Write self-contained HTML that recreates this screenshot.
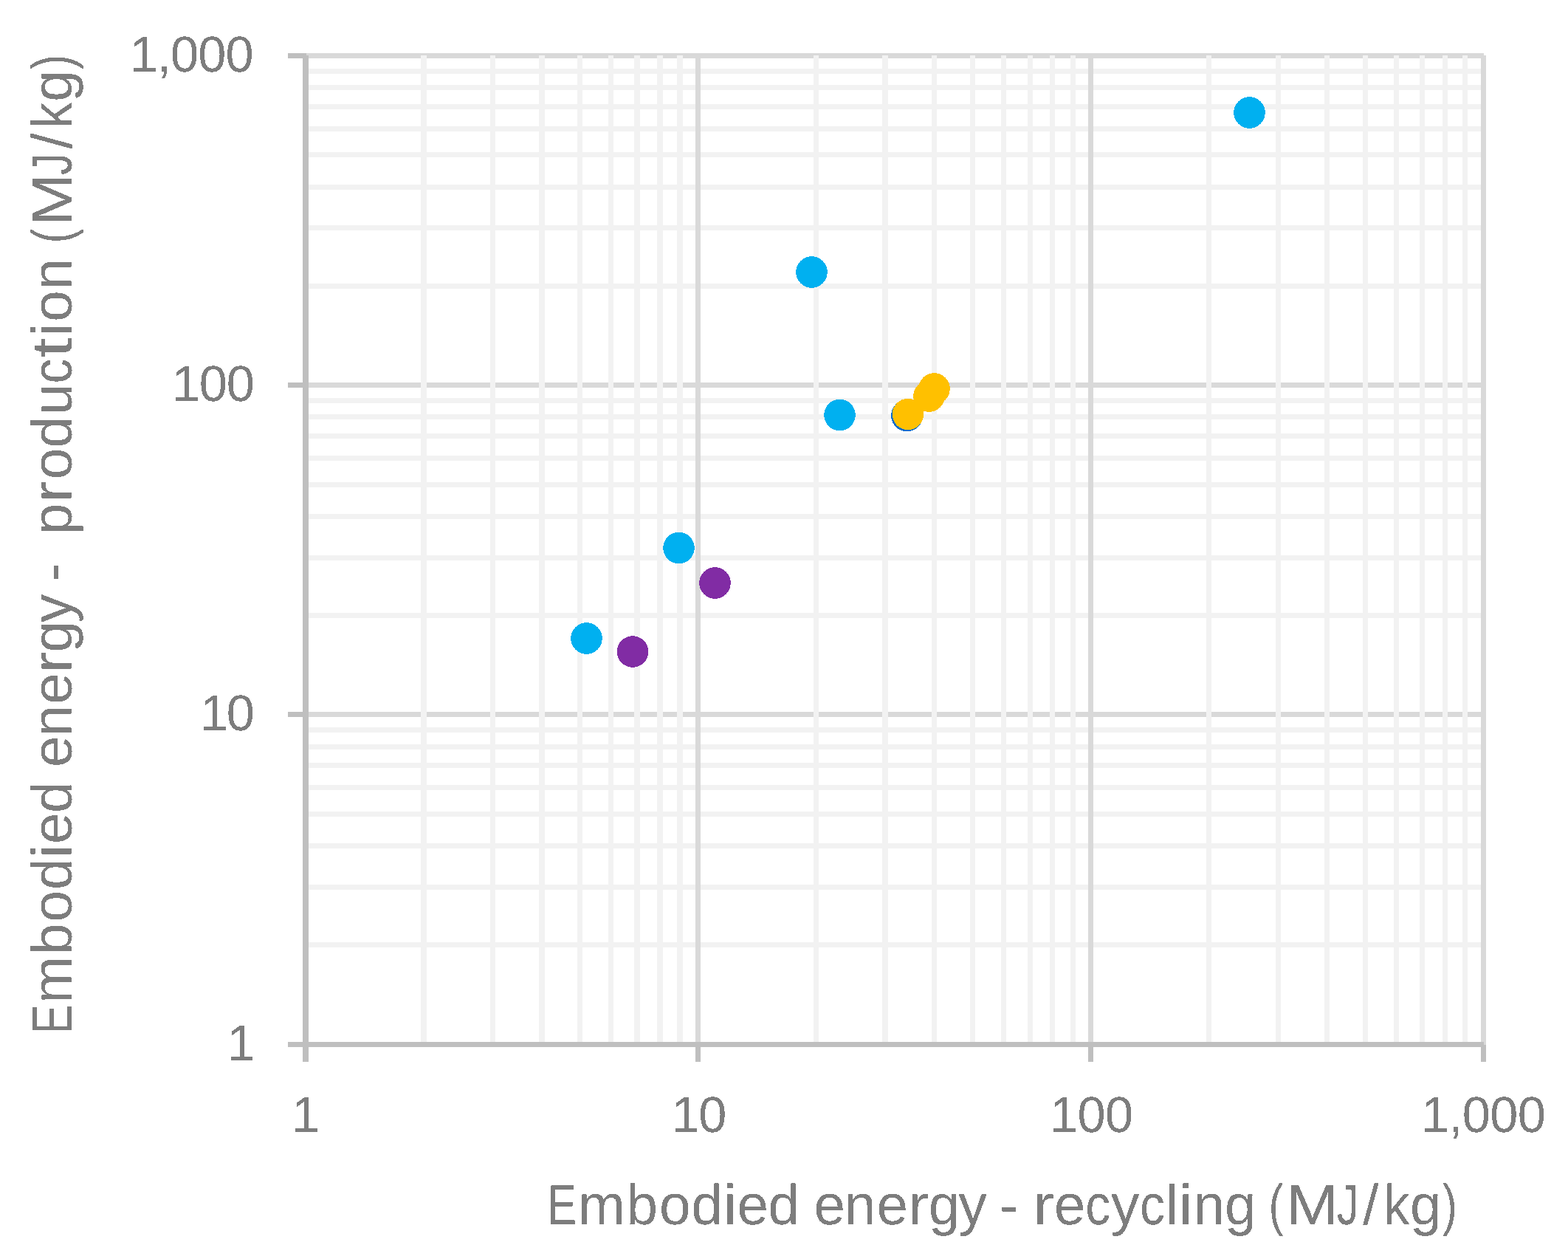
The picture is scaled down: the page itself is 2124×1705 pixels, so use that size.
<!DOCTYPE html>
<html lang="en"><head><meta charset="utf-8"><title>Embodied energy - production vs recycling</title>
<style>html,body{margin:0;padding:0;background:#fff}body{width:2124px;height:1705px}svg{display:block}text{font-family:"Liberation Sans",sans-serif;fill:#7d7d7d}.mn{fill:#f2f2f2}.mj{fill:#d9d9d9}.ax{fill:#bfbfbf}</style></head><body>
<svg width="2124" height="1705" viewBox="0 0 2124 1705" shape-rendering="crispEdges" role="img" aria-label="Scatter chart: embodied energy of production versus recycling (MJ/kg), log-log axes">
<rect width="2124" height="1705" fill="#fff"/>
<g class="mn">
<rect x="418" y="93" width="1588" height="7"/>
<rect x="418" y="115" width="1588" height="7"/>
<rect x="418" y="141" width="1588" height="7"/>
<rect x="418" y="171" width="1588" height="7"/>
<rect x="418" y="206" width="1588" height="7"/>
<rect x="418" y="250" width="1588" height="7"/>
<rect x="418" y="305" width="1588" height="7"/>
<rect x="418" y="384" width="1588" height="7"/>
<rect x="418" y="539" width="1588" height="7"/>
<rect x="418" y="561" width="1588" height="7"/>
<rect x="418" y="587" width="1588" height="7"/>
<rect x="418" y="617" width="1588" height="7"/>
<rect x="418" y="653" width="1588" height="7"/>
<rect x="418" y="696" width="1588" height="7"/>
<rect x="418" y="752" width="1588" height="7"/>
<rect x="418" y="830" width="1588" height="7"/>
<rect x="418" y="985" width="1588" height="7"/>
<rect x="418" y="1008" width="1588" height="7"/>
<rect x="418" y="1033" width="1588" height="7"/>
<rect x="418" y="1063" width="1588" height="7"/>
<rect x="418" y="1099" width="1588" height="7"/>
<rect x="418" y="1142" width="1588" height="7"/>
<rect x="418" y="1198" width="1588" height="7"/>
<rect x="418" y="1276" width="1588" height="7"/>
</g>
<g class="mj">
<rect x="415" y="964" width="1591" height="7"/>
<rect x="415" y="518" width="1591" height="7"/>
<rect x="415" y="72" width="1595" height="7"/>
</g>
<g class="mn">
<rect x="570" y="75" width="8" height="1336"/>
<rect x="664" y="75" width="7" height="1336"/>
<rect x="730" y="75" width="8" height="1336"/>
<rect x="782" y="75" width="7" height="1336"/>
<rect x="824" y="75" width="7" height="1336"/>
<rect x="859" y="75" width="8" height="1336"/>
<rect x="890" y="75" width="8" height="1336"/>
<rect x="917" y="75" width="8" height="1336"/>
<rect x="1102" y="75" width="7" height="1336"/>
<rect x="1195" y="75" width="8" height="1336"/>
<rect x="1262" y="75" width="7" height="1336"/>
<rect x="1314" y="75" width="7" height="1336"/>
<rect x="1356" y="75" width="7" height="1336"/>
<rect x="1392" y="75" width="7" height="1336"/>
<rect x="1422" y="75" width="7" height="1336"/>
<rect x="1450" y="75" width="7" height="1336"/>
<rect x="1634" y="75" width="7" height="1336"/>
<rect x="1728" y="75" width="7" height="1336"/>
<rect x="1794" y="75" width="7" height="1336"/>
<rect x="1846" y="75" width="7" height="1336"/>
<rect x="1888" y="75" width="7" height="1336"/>
<rect x="1923" y="75" width="7" height="1336"/>
<rect x="1954" y="75" width="7" height="1336"/>
<rect x="1981" y="75" width="7" height="1336"/>
</g>
<g class="mj">
<rect x="942" y="75" width="7" height="1340"/>
<rect x="1474" y="75" width="7" height="1340"/>
<rect x="2006" y="75" width="7" height="1340"/>
</g>
<g class="ax">
<rect x="410" y="75" width="8" height="1363"/>
<rect x="390" y="1411" width="1620" height="7"/>
<rect x="390" y="964" width="20" height="7"/>
<rect x="390" y="518" width="20" height="7"/>
<rect x="390" y="72" width="25" height="7"/>
<rect x="942" y="1418" width="7" height="20"/>
<rect x="1474" y="1418" width="7" height="20"/>
<rect x="2006" y="1415" width="7" height="23"/>
</g>
<g shape-rendering="crispEdges">
<g fill="#00b0f0">
<circle cx="794.5" cy="864.5" r="21.3"/>
<circle cx="919.5" cy="742.0" r="21.3"/>
<circle cx="1099.5" cy="368.5" r="21.3"/>
<circle cx="1137.5" cy="562.0" r="21.3"/>
<circle cx="1692.5" cy="152.5" r="21.3"/>
</g>
<g fill="#086cc9">
<circle cx="1228.7" cy="562.8" r="21.6"/>
</g>
<g fill="#812ca4">
<circle cx="857.0" cy="882.5" r="21.3"/>
<circle cx="968.5" cy="789.5" r="21.3"/>
</g>
<g fill="#ffc000">
<circle cx="1230.0" cy="561.0" r="21.3"/>
<circle cx="1258.5" cy="536.5" r="21.3"/>
<circle cx="1265.5" cy="526.5" r="21.3"/>
</g>
</g>
<defs><filter id="hard" x="0" y="0" width="100%" height="100%" filterUnits="userSpaceOnUse" primitiveUnits="userSpaceOnUse" color-interpolation-filters="sRGB"><feComponentTransfer><feFuncA type="discrete" tableValues="0 1"/></feComponentTransfer></filter></defs>
<g text-rendering="geometricPrecision" filter="url(#hard)">
<text y="1657.7" font-size="76.5"><tspan x="741.3" textLength="39.8" lengthAdjust="spacingAndGlyphs">E</tspan><tspan x="782.9 848.5 893.0 936.5">mbod</tspan><tspan x="979.0" textLength="19.6" lengthAdjust="spacingAndGlyphs">i</tspan><tspan x="998.5 1040.6">ed</tspan> <tspan x="1102.4 1143.8 1187.6">ene</tspan><tspan x="1229.8" textLength="28.8" lengthAdjust="spacingAndGlyphs">r</tspan><tspan x="1257.7 1298.4">gy</tspan> <tspan x="1353.9">-</tspan> <tspan x="1399.3" textLength="28.8" lengthAdjust="spacingAndGlyphs">r</tspan><tspan x="1427.7">e</tspan><tspan x="1470.2" textLength="33.9" lengthAdjust="spacingAndGlyphs">c</tspan><tspan x="1505.0">y</tspan><tspan x="1544.0" textLength="33.9" lengthAdjust="spacingAndGlyphs">c</tspan><tspan x="1578.9">l</tspan><tspan x="1596.5" textLength="19.6" lengthAdjust="spacingAndGlyphs">i</tspan><tspan x="1616.6 1659.1">ng</tspan> <tspan x="1718.5" textLength="19.9" lengthAdjust="spacingAndGlyphs">(</tspan><tspan x="1741.5" textLength="72.1" lengthAdjust="spacingAndGlyphs">M</tspan><tspan x="1810.8" textLength="29.8" lengthAdjust="spacingAndGlyphs">J</tspan><tspan x="1846.3">/</tspan><tspan x="1874.5" textLength="34.6" lengthAdjust="spacingAndGlyphs">k</tspan><tspan x="1910.1">g</tspan><tspan x="1954.1" textLength="19.9" lengthAdjust="spacingAndGlyphs">)</tspan></text>
<text transform="translate(96.7 0) rotate(-90)" y="0" font-size="76.5"><tspan x="-1400.3" textLength="39.8" lengthAdjust="spacingAndGlyphs">E</tspan><tspan x="-1358.7 -1293.1 -1248.6 -1205.1">mbod</tspan><tspan x="-1162.6" textLength="19.6" lengthAdjust="spacingAndGlyphs">i</tspan><tspan x="-1143.1 -1101.0">ed</tspan> <tspan x="-1038.9 -997.5 -953.7">ene</tspan><tspan x="-911.5" textLength="28.8" lengthAdjust="spacingAndGlyphs">r</tspan><tspan x="-883.6 -842.9">gy</tspan> <tspan x="-787.7">-</tspan>  <tspan x="-724.3">p</tspan><tspan x="-680.6" textLength="28.8" lengthAdjust="spacingAndGlyphs">r</tspan><tspan x="-649.2 -606.4 -562.1">odu</tspan><tspan x="-519.6" textLength="33.9" lengthAdjust="spacingAndGlyphs">c</tspan><tspan x="-484.3" textLength="27.2" lengthAdjust="spacingAndGlyphs">t</tspan><tspan x="-456.2" textLength="19.6" lengthAdjust="spacingAndGlyphs">i</tspan><tspan x="-435.8 -392.5">on</tspan> <tspan x="-329.4" textLength="19.9" lengthAdjust="spacingAndGlyphs">(</tspan><tspan x="-306.4" textLength="72.1" lengthAdjust="spacingAndGlyphs">M</tspan><tspan x="-237.1" textLength="29.8" lengthAdjust="spacingAndGlyphs">J</tspan><tspan x="-201.6">/</tspan><tspan x="-173.4" textLength="34.6" lengthAdjust="spacingAndGlyphs">k</tspan><tspan x="-137.8">g</tspan><tspan x="-93.8" textLength="19.9" lengthAdjust="spacingAndGlyphs">)</tspan></text>
<text x="175.7" y="97.1" font-size="68.5" style="letter-spacing:-0.86px">1,000</text>
<text x="232.8" y="543.0" font-size="68.5" style="letter-spacing:-1.11px">100</text>
<text x="271.0" y="988.9" font-size="68.5" style="letter-spacing:-2.23px">10</text>
<text x="307.5" y="1435.8" font-size="68.5">1</text>
<text x="395.1" y="1533.2" font-size="68.5">1</text>
<text x="909.6" y="1533.2" font-size="68.5" style="letter-spacing:-1.43px">10</text>
<text x="1421.9" y="1533.2" font-size="68.5" style="letter-spacing:-0.51px">100</text>
<text x="1924.9" y="1533.2" font-size="68.5" style="letter-spacing:-0.59px">1,000</text>
</g>
</svg></body></html>
